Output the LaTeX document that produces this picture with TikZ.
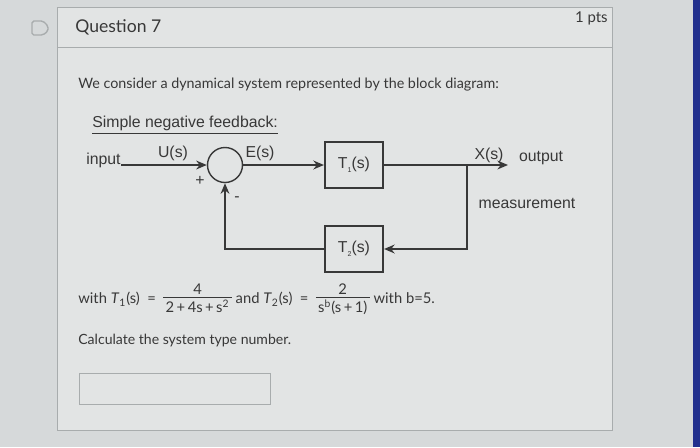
\documentclass[tikz,border=0pt]{standalone}
\usepackage{fontspec}
\setmainfont{Lato}
\newfontfamily\arialfont{Liberation Sans}
\usetikzlibrary{arrows.meta}
\definecolor{screengray}{HTML}{D6D9DA}
\definecolor{cardgray}{HTML}{E2E4E4}
\definecolor{inkgray}{HTML}{383838}
\definecolor{rulegray}{HTML}{A8ACAD}
\definecolor{edgeblue}{HTML}{22308E}

\newcommand{\fracbox}[2]{\begin{tabular}{@{\,}c@{\,}}#1\\[-2pt]\hline\rule{0pt}{8.5pt}#2\end{tabular}}
\newcommand{\tsub}[1]{\raisebox{-2pt}{\fontsize{4}{4}\selectfont #1}}

\begin{document}
\begin{tikzpicture}[
	block/.style={shape=rectangle, draw=inkgray, very thick, minimum width=1.16cm, minimum height=0.92cm, font=\arialfont\fontsize{9}{10}\selectfont, text=inkgray},
	summer/.style={shape=circle, draw=inkgray, thick, minimum size=0.7cm, inner sep=0pt},
	lbl/.style={font=\arialfont\fontsize{9}{10}\selectfont, text=inkgray, inner sep=0pt},
	body/.style={font=\fontsize{8}{10}\selectfont, text=inkgray, inner sep=0pt, anchor=west},
	signal/.style={draw=inkgray, very thick, -{Stealth[length=6pt,width=5pt]}}
	]
		\useasboundingbox (0,0) rectangle (14,-8.94);
		\fill[screengray] (0,0) rectangle (14,-8.94);
		\fill[edgeblue] (13.86,0) rectangle (14,-8.94);
		\fill[cardgray] (1.14,-0.14) rectangle (12.24,-8.6);
		\draw[rulegray] (1.14,-0.14) rectangle (12.24,-8.6);
		\draw[rulegray] (1.14,-0.94) -- (12.24,-0.94);
		\draw[rulegray, thick, rounded corners=1pt] (0.64,-0.42) -- (0.86,-0.42) -- (0.96,-0.52) -- (0.96,-0.62) -- (0.86,-0.70) -- (0.64,-0.70) -- cycle;
		
		\node[body, font=\fontsize{10}{12}\selectfont] (title) at (1.5,-0.54) {Question 7};
		\node[body, anchor=east, font=\fontsize{8.5}{10}\selectfont] (pts) at (12.16,-0.36) {1 pts};
		\node[body, font=\fontsize{8.15}{10}\selectfont] (intro) at (1.56,-1.7) {We consider a dynamical system represented by the block diagram:};
		
		\node[lbl, anchor=west] (heading) at (1.84,-2.5) {\underline{Simple negative feedback:}};
		\node[lbl, anchor=east] (input) at (2.42,-3.2) {input};
		\node[summer] (sum) at (4.5,-3.3) {};
		\node[block] (T1) at (7.08,-3.3) {T\tsub{1}(s)};
		\node[block] (T2) at (7.08,-4.98) {T\tsub{2}(s)};
		\coordinate (branch) at (9.34,-3.3);
		\coordinate (out) at (10.16,-3.3);
		
		\node[lbl] (U) at (3.46,-3.06) {U(s)};
		\node[lbl] (E) at (5.2,-3.06) {E(s)};
		\node[lbl] (plus) at (4.0,-3.62) {+};
		\node[lbl] (minus) at (4.74,-3.98) {-};
		\node[lbl] (X) at (9.78,-3.1) {X(s)};
		\node[lbl] (output) at (10.82,-3.16) {output};
		\node[lbl] (meas) at (10.54,-4.06) {measurement};
		
		\draw [signal] (input.east |- sum.west) -- (sum.west);
		\draw [signal] (sum.east) -- (T1.west);
		\draw [signal] (T1.east) -- (out);
		\draw [signal] (branch) |- (T2.east);
		\draw [signal] (T2.west) -| (sum.south);
		
		\node[body, font=\fontsize{8.4}{10}\selectfont] (formula) at (1.56,-6.0) {with \textit{T}\textsubscript{1}(s)\enspace=\enspace\fracbox{4}{2\,+\,4s\,+\,s\textsuperscript{2}} and \textit{T}\textsubscript{2}(s)\enspace=\enspace\fracbox{2}{s\textsuperscript{b}(s\,+\,1)} with b=5.};
		\node[body] (task) at (1.56,-6.82) {Calculate the system type number.};
		\node[draw=rulegray, minimum width=3.82cm, minimum height=0.62cm] (answer) at (3.49,-7.77) {};
		
\end{tikzpicture}
\end{document}
